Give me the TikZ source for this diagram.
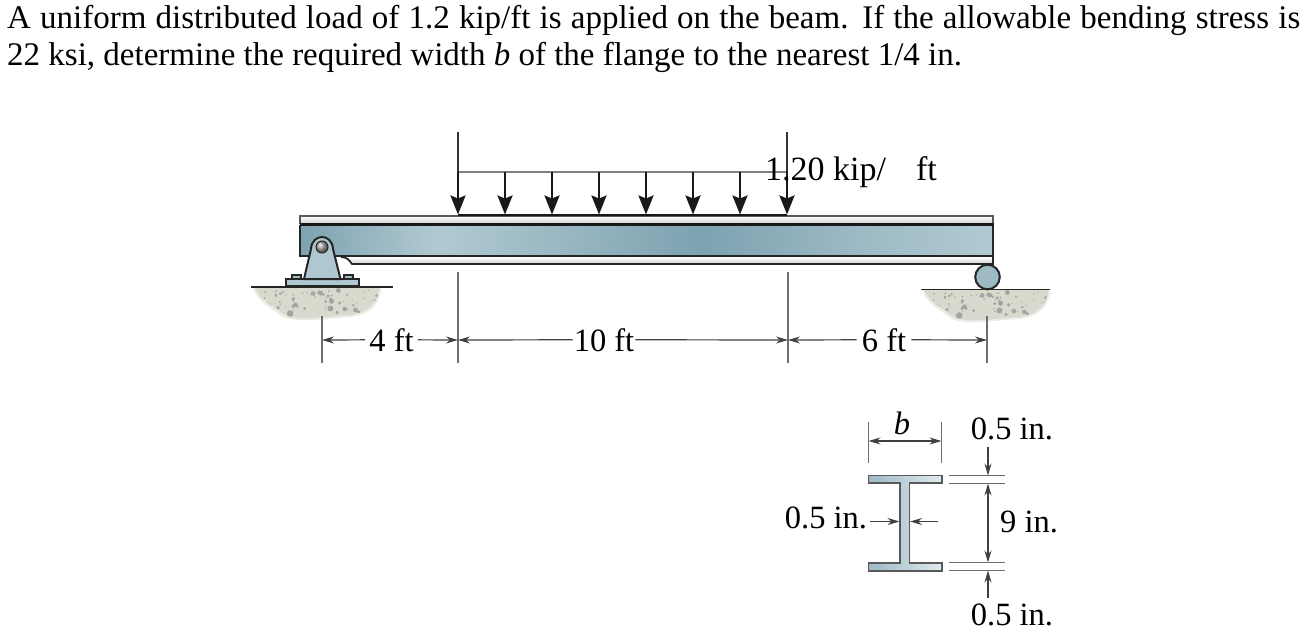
\documentclass[tikz,border=0pt]{standalone}
\usepackage{fontspec}
\setmainfont{Liberation Serif}
\usetikzlibrary{arrows.meta}
\usetikzlibrary{patterns.meta}
\definecolor{steel}{HTML}{9DBAC5}
\definecolor{steeldark}{HTML}{7BA1AF}
\definecolor{steellight}{HTML}{B0C9D1}
\definecolor{soil}{HTML}{DAD9CE}
\definecolor{stone}{HTML}{A4A5A1}
\definecolor{dimgray}{HTML}{6E6E6E}
\pgfdeclarehorizontalshading{webshade}{100bp}{
	color(0bp)=(steeldark); color(25bp)=(steeldark); color(35bp)=(steellight); color(54bp)=(steeldark);
	color(66bp)=(steel); color(75bp)=(steellight); color(100bp)=(steellight)}
\tikzset{
	words/.style={font=\fontsize{33}{38}\selectfont, anchor=base west, inner sep=0pt},
	dimtext/.style={font=\fontsize{32.5}{38}\selectfont, anchor=base, inner ysep=0pt, inner xsep=#1},
	dimtext/.default=4pt,
	dimline/.style={line width=1.2pt, draw=black!75, -{Stealth[length=12pt,width=7pt]}},
	twoway/.style={line width=1.2pt, draw=black!75, {Stealth[length=12pt,width=7pt]}-{Stealth[length=12pt,width=7pt]}},
	extline/.style={line width=1.5pt, draw=dimgray},
	loadarrow/.style={line width=2.6pt, draw=black!90, -{Stealth[length=19pt,width=15pt,inset=3pt]}},
	outline/.style={draw=black!85, line width=2pt},
}
\begin{document}
\begin{tikzpicture}[x=1pt,y=-1pt]
	\useasboundingbox (0,0) rectangle (1308,640);
	% question
	\node[words] (line1) at (7,28) {\makebox[1293pt][s]{A uniform distributed load of 1.2 kip/ft is applied on the beam. If the allowable bending stress is}};
	\node[words] (line2) at (7,65) {22 ksi, determine the required width \textit{b} of the flange to the nearest 1/4 in.};

	% ground
	\foreach \gx/\gy in {0/0,669/2}{
		\begin{scope}[shift={(\gx pt,-\gy pt)}]
			\fill[soil!55] (253,287) .. controls (256,300) and (268,306) .. (283,317) .. controls (300,323) and (320,319) .. (350,317) .. controls (372,314) and (381,302) .. (381,287) -- cycle;
			\begin{scope}
				\clip (255,287) .. controls (258,298) and (270,304) .. (285,315) .. controls (300,321) and (320,317) .. (350,315) .. controls (370,312) and (379,300) .. (379,287) -- cycle;
				\fill[soil] (250,285) rectangle (385,322);
				\pgfmathsetseed{11}
				\foreach \i in {1,...,70}{
					\pgfmathsetmacro\sx{255+rnd*125}
					\pgfmathsetmacro\sy{290+rnd*24}
					\pgfmathsetmacro\sr{.6+rnd*rnd*3}
					\fill[stone] (\sx,\sy) circle[radius=\sr pt];
				}
			\end{scope}
		\end{scope}
	}
	\draw[line width=1.8pt, black!85] (251,287) -- (393,287);
	\draw[line width=1.8pt, black!85] (921,289.5) -- (1050,289.5);

	% beam
	\shade[top color=white, bottom color=black!18] (300,216) rectangle (993,224);
	\draw[line width=1.5pt, black!65] (300,224) -- (300,216) -- (993,216) -- (993,224);
	\shade[shading=webshade] (300,225) rectangle (993,256);
	\fill[pattern={Lines[angle=-50,distance=4pt,line width=.5pt]}, pattern color=white, fill opacity=.2] (300,225) rectangle (993,256);
	\draw[outline] (300,225) -- (300,256) -- (993,256) -- (993,225);
	\draw[line width=3pt, black!90] (299.5,224.5) -- (993.5,224.5);
	\shade[top color=white, bottom color=black!18, draw=black!85, line width=1.8pt] (341,257) .. controls (347,257) and (349,260) .. (352,264) -- (993,264) -- (993,257);

	% pin support
	\draw[outline, fill=steel] (291.5,279) rectangle (300.5,275);
	\draw[outline, fill=steel] (344,279) rectangle (353,275);
	\draw[outline, fill=steellight!90!steel] (286,279) rectangle (359,286);
	\draw[outline, fill=steellight!90!steel] (304,279) -- (311,249) .. controls (312,233) and (332,233) .. (333,249) -- (340.5,279) -- cycle;
	\shade[ball color=black!35, draw=black!85, line width=1pt] (322,247) circle[radius=6pt];

	% roller
	\draw[outline, fill=steel] (987.5,277) circle[radius=12.3pt];

	% load
	\coordinate (qa) at (458,171.5);
	\coordinate (qb) at (787,171.5);
	\coordinate (qa0) at (458,132);
	\coordinate (qb0) at (787,132);
	\draw[line width=2pt, black!50] (qa) -- (qb);
	\draw[line width=1.6pt, black!80] (qa0) -- (qa);
	\draw[line width=1.6pt, black!80] (qb0) -- (qb);
	\foreach \i in {0,...,7}{
		\coordinate (top\i) at ({458+47*\i},171.5);
		\coordinate (tip\i) at ({458+47*\i},214.5);
		\draw[loadarrow] (top\i) -- (tip\i);
	}
	\draw[line width=2pt, black!90] (tip0) -- (tip7);
	\node[words, font=\fontsize{34}{38}\selectfont] (load) at (765,180) {1.20 kip/\hspace{30pt}ft};

	% span dimensions
	\foreach \n/\x/\a/\b in {e1/322/316/363, e2/458/272/363, e3/788/272/363, e4/987/316/363}{
		\coordinate (\n t) at (\x,\a);
		\coordinate (\n b) at (\x,\b);
		\coordinate (\n) at (\x,340);
		\draw[extline] (\n t) -- (\n b);
	}
	\node[dimtext] (span1) at (391.5,351) {4 ft};
	\node[dimtext=1pt] (span2) at (604,351) {10 ft};
	\node[dimtext=5pt] (span3) at (884,351) {6 ft};
	\draw[dimline] (span1) -- (e1);
	\draw[dimline] (span1) -- (e2);
	\draw[dimline] (span2) -- (e2);
	\draw[dimline] (span2) -- (e3);
	\draw[dimline] (span3) -- (e3);
	\draw[dimline] (span3) -- (e4);

	% cross section
	\shade[left color=steel, right color=steellight!40, draw=black!65, line width=1.8pt]
		(868.5,475.5) -- (942,475.5) -- (942,483) -- (909.5,483) -- (909.5,563) -- (942,563) -- (942,571) -- (868.5,571) -- (868.5,563) -- (900,563) -- (900,483) -- (868.5,483) -- cycle;

	% section dimensions
	\coordinate (ba) at (868.5,441);
	\coordinate (bb) at (941.5,441);
	\draw[extline] (868.5,422) -- (868.5,463);
	\draw[extline] (941.5,422) -- (941.5,463);
	\draw[twoway] (ba) -- (bb);
	\node[dimtext=0pt] (blabel) at (902,434) {\textit{b}};

	\foreach \n/\y in {h1/475.5, h2/483.5, h3/562.5, h4/570.5}{
		\coordinate (\n l) at (949,\y);
		\coordinate (\n r) at (1005,\y);
		\coordinate (\n) at (988,\y);
		\draw[extline] (\n l) -- (\n r);
	}
	\coordinate (tarr) at (988,447);
	\coordinate (barr) at (988,598);
	\draw[dimline] (tarr) -- (h1);
	\draw[dimline] (barr) -- (h4);
	\draw[twoway] (h2) -- (h3);
	\node[dimtext=0pt] (ttop) at (1012,439) {0.5 in.};
	\node[dimtext=0pt] (tbot) at (1012,625) {0.5 in.};
	\node[dimtext=0pt] (tnine) at (1029,532) {9 in.};
	\node[dimtext=0pt] (tweb) at (826,528) {0.5 in.};

	\coordinate (wl) at (870,521.5);
	\coordinate (wa) at (899.5,521.5);
	\coordinate (wr) at (938,521.5);
	\coordinate (wb) at (910,521.5);
	\draw[dimline] (wl) -- (wa);
	\draw[dimline] (wr) -- (wb);
\end{tikzpicture}
\end{document}
